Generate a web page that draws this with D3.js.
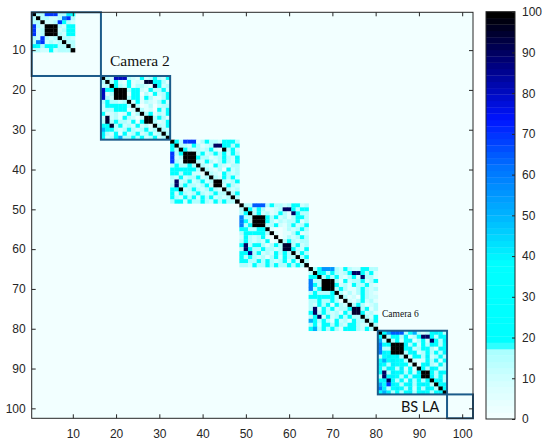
<!DOCTYPE html>
<html>
<head>
<meta charset="utf-8">
<script src="https://cdn.jsdelivr.net/npm/d3@7"></script>
<style>
  body { margin: 0; background: #fff; }
  svg { display: block; }
</style>
</head>
<body>
<div id="chart"></div>
<script>
// matrix cells, one char per cell, base-21 digit * 5 = value (0..100)
var block1 = [
  "k33eee3386",
  "3k33223ce3",
  "33k223e632",
  "e32kkk3255",
  "e23kkk2355",
  "e23kkk3255",
  "32e323k332",
  "3ce2323k33",
  "86355533k3",
  "332252333k"
];
var block2 = [
  "k32ggg3215235325",
  "3k35215121jj5531",
  "23k532513321j523",
  "g55kkk3552153352",
  "g13kkk1550315235",
  "g32kkk3551531135",
  "353323k251321352",
  "2555553k30130233",
  "23355512k3120525",
  "512312513k351325",
  "2j23153202kk3531",
  "3j35332515kk3125",
  "55j352325231k325",
  "a553235323523k32",
  "83251523523523k3",
  "5235a3353523523k"
];
var block3 = [
  "k53eee1353325553",
  "5k33253123ii5535",
  "53k532323521k352",
  "e35kkk3523535253",
  "e23kkk5331235325",
  "e32kkk3253135325",
  "353353k321532133",
  "5555553k32130523",
  "55355221k3215323",
  "325233523k325352",
  "2i23523523kk3235",
  "3i35332352kk2532",
  "55k235323532k323",
  "5253235323533k35",
  "53253525352323k3",
  "355253353253533k"
];
var block4 = [
  "k33ddd3533235523",
  "3k53531123ii5355",
  "35k352312531i533",
  "c33kkk5352313553",
  "c53kkk5313233513",
  "c35kkk3352135235",
  "553355k100132353",
  "3555553k10113512",
  "25323510k0132353",
  "353232501k353233",
  "5i35531353jj3523",
  "3i53353323jj5325",
  "55h352325353k253",
  "5353231352533k35",
  "55335353235252k3",
  "332533535335353k"
];
var block5 = [
  "k35bbb3253225533",
  "3k55353235ii5351",
  "55k353521352i331",
  "c33kkk3152335235",
  "c53kkk5231533521",
  "c35kkk3531135323",
  "353335k313135321",
  "5555553k31205322",
  "33533531k2135231",
  "325351532k353123",
  "3i25352335jj3513",
  "5i35323153jj5231",
  "35i252353533k325",
  "a535315231533k35",
  "35255353255322k3",
  "5a3535315553253k"
];
var block6 = [
  "k5addd35a3235853",
  "5k35538235ii5385",
  "a3k352581352i538",
  "c55kkk8352538535",
  "c33kkk5823553185",
  "c85kkk3582353538",
  "358583k255382353",
  "5a58553k21253825",
  "85385552k1583253",
  "538538251k538523",
  "5i38583528kk5385",
  "3i58535385kk8353",
  "58i535283535k583",
  "a5e8535835853k58",
  "c8358538253853k5",
  "5a8353583585358k"
];
var blockStarts = [1, 17, 33, 49, 65, 81];
var blocks = [block1, block2, block3, block4, block5, block6];

var axisTicks = [10, 20, 30, 40, 50, 60, 70, 80, 90, 100];
var barTicks = [0, 10, 20, 30, 40, 50, 60, 70, 80, 90, 100];

var boxes = [
  { from: 0.5, to: 16.5 },
  { from: 16.5, to: 32.5 },
  { from: 80.5, to: 96.5 },
  { from: 96.5, to: 102.5 }
];

var W = 550, H = 445;
var plotL = 31.7, plotR = 473, plotT = 12.3, plotB = 418.3;

var svg = d3.select("#chart").append("svg")
  .attr("width", W).attr("height", H);

var x = d3.scaleLinear().domain([0.5, 102.5]).range([plotL, plotR]);
var y = d3.scaleLinear().domain([0.5, 102.5]).range([plotT, plotB]);

var cmap = d3.scaleLinear()
  .domain([0, 8, 16, 18, 38, 50, 62, 74, 88, 100])
  .range(["#f2ffff", "#d6ffff", "#aaffff", "#00ffff", "#00ffff", "#00b4ff",
          "#0072ff", "#0014ff", "#00007a", "#000000"])
  .clamp(true);
var LEVELS = 64;
function color(v) {
  var k = Math.min(LEVELS - 1, Math.floor(v / 100 * LEVELS));
  return cmap(k / (LEVELS - 1) * 100);
}

// flatten into cells
var cells = [];
blocks.forEach(function(b, bi) {
  b.forEach(function(row, r) {
    for (var c = 0; c < row.length; c++) {
      cells.push({
        row: blockStarts[bi] + r,
        col: blockStarts[bi] + c,
        value: parseInt(row[c], 21) * 5
      });
    }
  });
});

svg.append("rect")
  .attr("x", plotL).attr("y", plotT)
  .attr("width", plotR - plotL).attr("height", plotB - plotT)
  .attr("fill", color(0));

svg.append("g").selectAll("rect")
  .data(cells)
  .enter().append("rect")
  .attr("x", function(d) { return x(d.col - 0.5); })
  .attr("y", function(d) { return y(d.row - 0.5); })
  .attr("width", function(d) { return x(d.col + 0.5) - x(d.col - 0.5) + 0.3; })
  .attr("height", function(d) { return y(d.row + 0.5) - y(d.row - 0.5) + 0.3; })
  .attr("fill", function(d) { return color(d.value); });

// boxes around cameras
svg.append("g").selectAll("rect")
  .data(boxes)
  .enter().append("rect")
  .attr("x", function(d) { return x(d.from); })
  .attr("y", function(d) { return y(d.from); })
  .attr("width", function(d) { return x(d.to) - x(d.from); })
  .attr("height", function(d) { return y(d.to) - y(d.from); })
  .attr("fill", "none")
  .attr("stroke", "#1c5b8a")
  .attr("stroke-width", 2);

// axes
var tickColor = "#262626";
function styleAxis(g) {
  g.select(".domain").remove();
  g.selectAll("line").attr("stroke", tickColor);
  g.selectAll("text").attr("fill", tickColor)
    .style("font-family", "Liberation Sans, Arial, sans-serif")
    .style("font-size", "12px");
}
svg.append("g").attr("transform", "translate(0," + plotB + ")")
  .call(d3.axisBottom(x).tickValues(axisTicks).tickSizeInner(-4).tickSizeOuter(0).tickPadding(11))
  .call(styleAxis);
svg.append("g").attr("transform", "translate(0," + plotT + ")")
  .call(d3.axisTop(x).tickValues(axisTicks).tickSizeInner(-4).tickSizeOuter(0).tickFormat(""))
  .call(styleAxis);
svg.append("g").attr("transform", "translate(" + plotL + ",0)")
  .call(d3.axisLeft(y).tickValues(axisTicks).tickSizeInner(-4).tickSizeOuter(0).tickPadding(6))
  .call(styleAxis);
svg.append("g").attr("transform", "translate(" + plotR + ",0)")
  .call(d3.axisRight(y).tickValues(axisTicks).tickSizeInner(-4).tickSizeOuter(0).tickFormat(""))
  .call(styleAxis);

svg.append("rect")
  .attr("x", plotL).attr("y", plotT)
  .attr("width", plotR - plotL).attr("height", plotB - plotT)
  .attr("fill", "none").attr("stroke", tickColor).attr("stroke-width", 1);

// labels
svg.append("text").attr("x", 110).attr("y", 66)
  .style("font-family", "Liberation Serif, Times New Roman, serif")
  .style("font-size", "15.5px").attr("fill", "#111")
  .text("Camera 2");
svg.append("text").attr("x", 382).attr("y", 317)
  .style("font-family", "Liberation Serif, Times New Roman, serif")
  .style("font-size", "9.5px").attr("fill", "#111")
  .text("Camera 6");
svg.append("text").attr("x", 401).attr("y", 412)
  .style("font-family", "Lato, Open Sans, sans-serif")
  .style("font-size", "14.5px").attr("fill", "#111")
  .text("BS LA");

// colorbar
var cbLeft = 486, cbRight = 515, cbTop = 11.7, cbBottom = 419;
var cy = d3.scaleLinear().domain([0, 100]).range([cbBottom, cbTop]);
var bands = d3.range(LEVELS);
svg.append("g").selectAll("rect")
  .data(bands)
  .enter().append("rect")
  .attr("x", cbLeft)
  .attr("y", function(k) { return cy((k + 1) / LEVELS * 100); })
  .attr("width", cbRight - cbLeft)
  .attr("height", function(k) { return cy(k / LEVELS * 100) - cy((k + 1) / LEVELS * 100) + 0.3; })
  .attr("fill", function(k) { return color((k + 0.5) / LEVELS * 100); });
svg.append("g").attr("transform", "translate(" + cbRight + ",0)")
  .call(d3.axisRight(cy).tickValues(barTicks).tickSizeInner(-3).tickSizeOuter(0).tickPadding(7))
  .call(styleAxis);
svg.append("rect")
  .attr("x", cbLeft).attr("y", cbTop)
  .attr("width", cbRight - cbLeft).attr("height", cbBottom - cbTop)
  .attr("fill", "none").attr("stroke", tickColor).attr("stroke-width", 1);
</script>
</body>
</html>
